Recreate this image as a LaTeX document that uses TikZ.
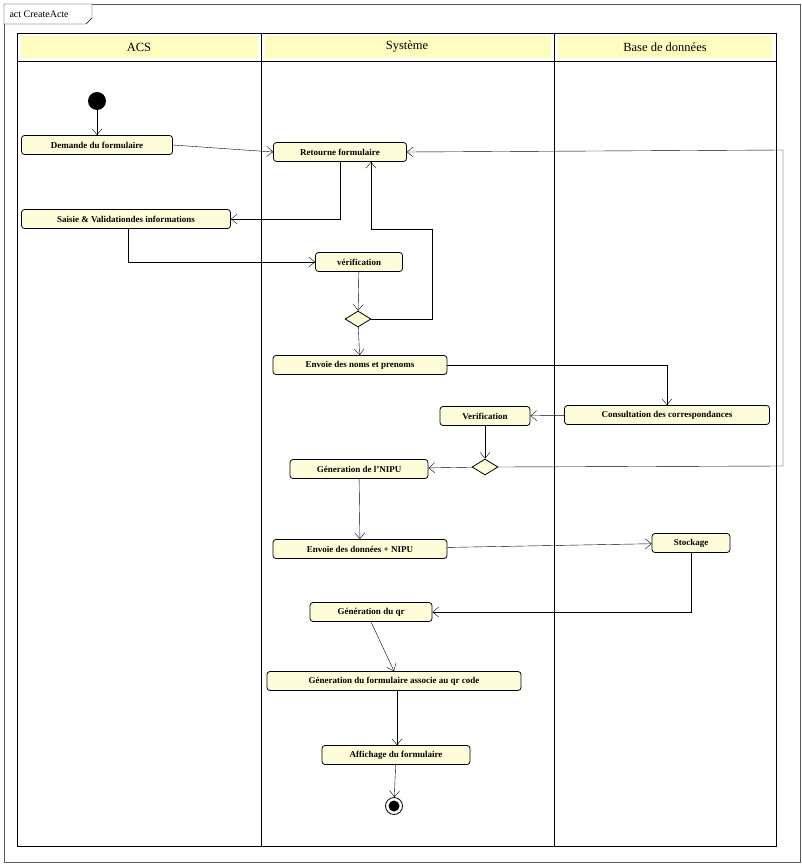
\documentclass[tikz,border=0pt]{standalone}
\usepackage{fontspec}
\setmainfont{Liberation Serif}
\usetikzlibrary{arrows.meta,shapes.geometric}
\begin{document}
\begin{tikzpicture}[x=1pt,y=-1pt,->,>={Straight Barb[length=6pt,width=10pt]},
  act/.style={rectangle,rounded corners=3pt,draw,thick,fill=yellow!15,minimum height=19pt,inner sep=0pt,font=\fontsize{9}{10}\selectfont\bfseries},
  dec/.style={diamond,draw,thick,fill=yellow!15,minimum width=26pt,minimum height=16pt,inner sep=0pt,aspect=1.6},
  lane/.style={fill=yellow!25,draw=none,font=\fontsize{12.5}{14}\selectfont}]
  \useasboundingbox (0,0) rectangle (801,864);
  % frame
  \draw[-,gray!70!black] (4,4) rectangle (800,862);
  \draw[-,fill=white] (4,4) -- (92,4) -- (92,18) -- (86,24) -- (4,24) -- cycle;
  \node[anchor=west,font=\fontsize{10}{11}\selectfont] (frame) at (6,14) {act CreateActe};
  % lanes
  \fill[yellow!25] (21,36) rectangle (258,58) (265,36) rectangle (551,58) (558,36) rectangle (772,58);
  \node[lane,fill=none] (acs) at (139,47) {ACS};
  \node[lane,fill=none] (sys) at (407,47) {Système};
  \node[lane,fill=none] (bdd) at (665,47) {Base de données};
  \draw[-,thick] (17,33) rectangle (776,846);
  \draw[-,thick] (17,61) -- (776,61);
  \draw[-,thick] (261,33) -- (261,846);
  \draw[-,thick] (554,33) -- (554,846);

  \node[circle,fill=black,minimum size=18pt,inner sep=0pt] (start) at (97,101) {};
  \node[act,minimum width=151pt] (demande) at (97,145) {Demande du formulaire};
  \node[act,minimum width=133pt] (retourne) at (340,152) {Retourne formulaire};
  \node[act,minimum width=209pt] (saisie) at (126,219) {Saisie \& Validationdes informations};
  \node[act,minimum width=87pt] (verif) at (359,262) {vérification};
  \node[dec] (d1) at (358,319) {};
  \node[act,minimum width=174pt] (noms) at (360,365) {Envoie des noms et prenoms};
  \node[act,minimum width=205pt] (consult) at (667,415) {Consultation des correspondances};
  \node[act,minimum width=90pt] (verif2) at (485,416) {Verification};
  \node[dec] (d2) at (485,467) {};
  \node[act,minimum width=138pt] (nipu) at (359,469) {Géneration de l'NIPU};
  \node[act,minimum width=174pt] (donnees) at (360,549) {Envoie des données + NIPU};
  \node[act,minimum width=78pt] (stock) at (691,543) {Stockage};
  \node[act,minimum width=122pt] (qr) at (371,612) {Génération du qr};
  \node[act,minimum width=254pt] (assoc) at (394,681) {Géneration du formulaire associe au qr code};
  \node[act,minimum width=148pt] (affich) at (396,755) {Affichage du formulaire};
  \node[circle,draw,thick,minimum size=17pt,inner sep=0pt] (end) at (394,806) {};
  \node[circle,fill=black,minimum size=11pt,inner sep=0pt] at (end) {};

  \draw (start) -- (demande);
  \draw (demande.east) -- (retourne.west);
  \draw (retourne.south) |- (saisie.east);
  \draw (saisie.south -| 128,0) |- (verif.west);
  \draw (verif) -- (d1);
  \draw (d1.east) -- (432,319) -- (432,229) -- (371,229) -- (retourne.south -| 371,0);
  \draw (d1) -- (noms);
  \draw (noms.east) -| (consult.north);
  \draw (consult) -- (verif2);
  \draw (verif2) -- (d2);
  \draw (d2.east) -- (783,466) -- (783,150) -- (retourne.east);
  \draw (d2) -- (nipu);
  \draw (nipu) -- (donnees);
  \draw (donnees) -- (stock);
  \draw (stock.south) |- (qr.east);
  \draw (qr.south) -- (assoc.north);
  \draw (assoc.south -| 397,0) -- (affich.north -| 397,0);
  \draw (affich) -- (end);
\end{tikzpicture}
\end{document}
